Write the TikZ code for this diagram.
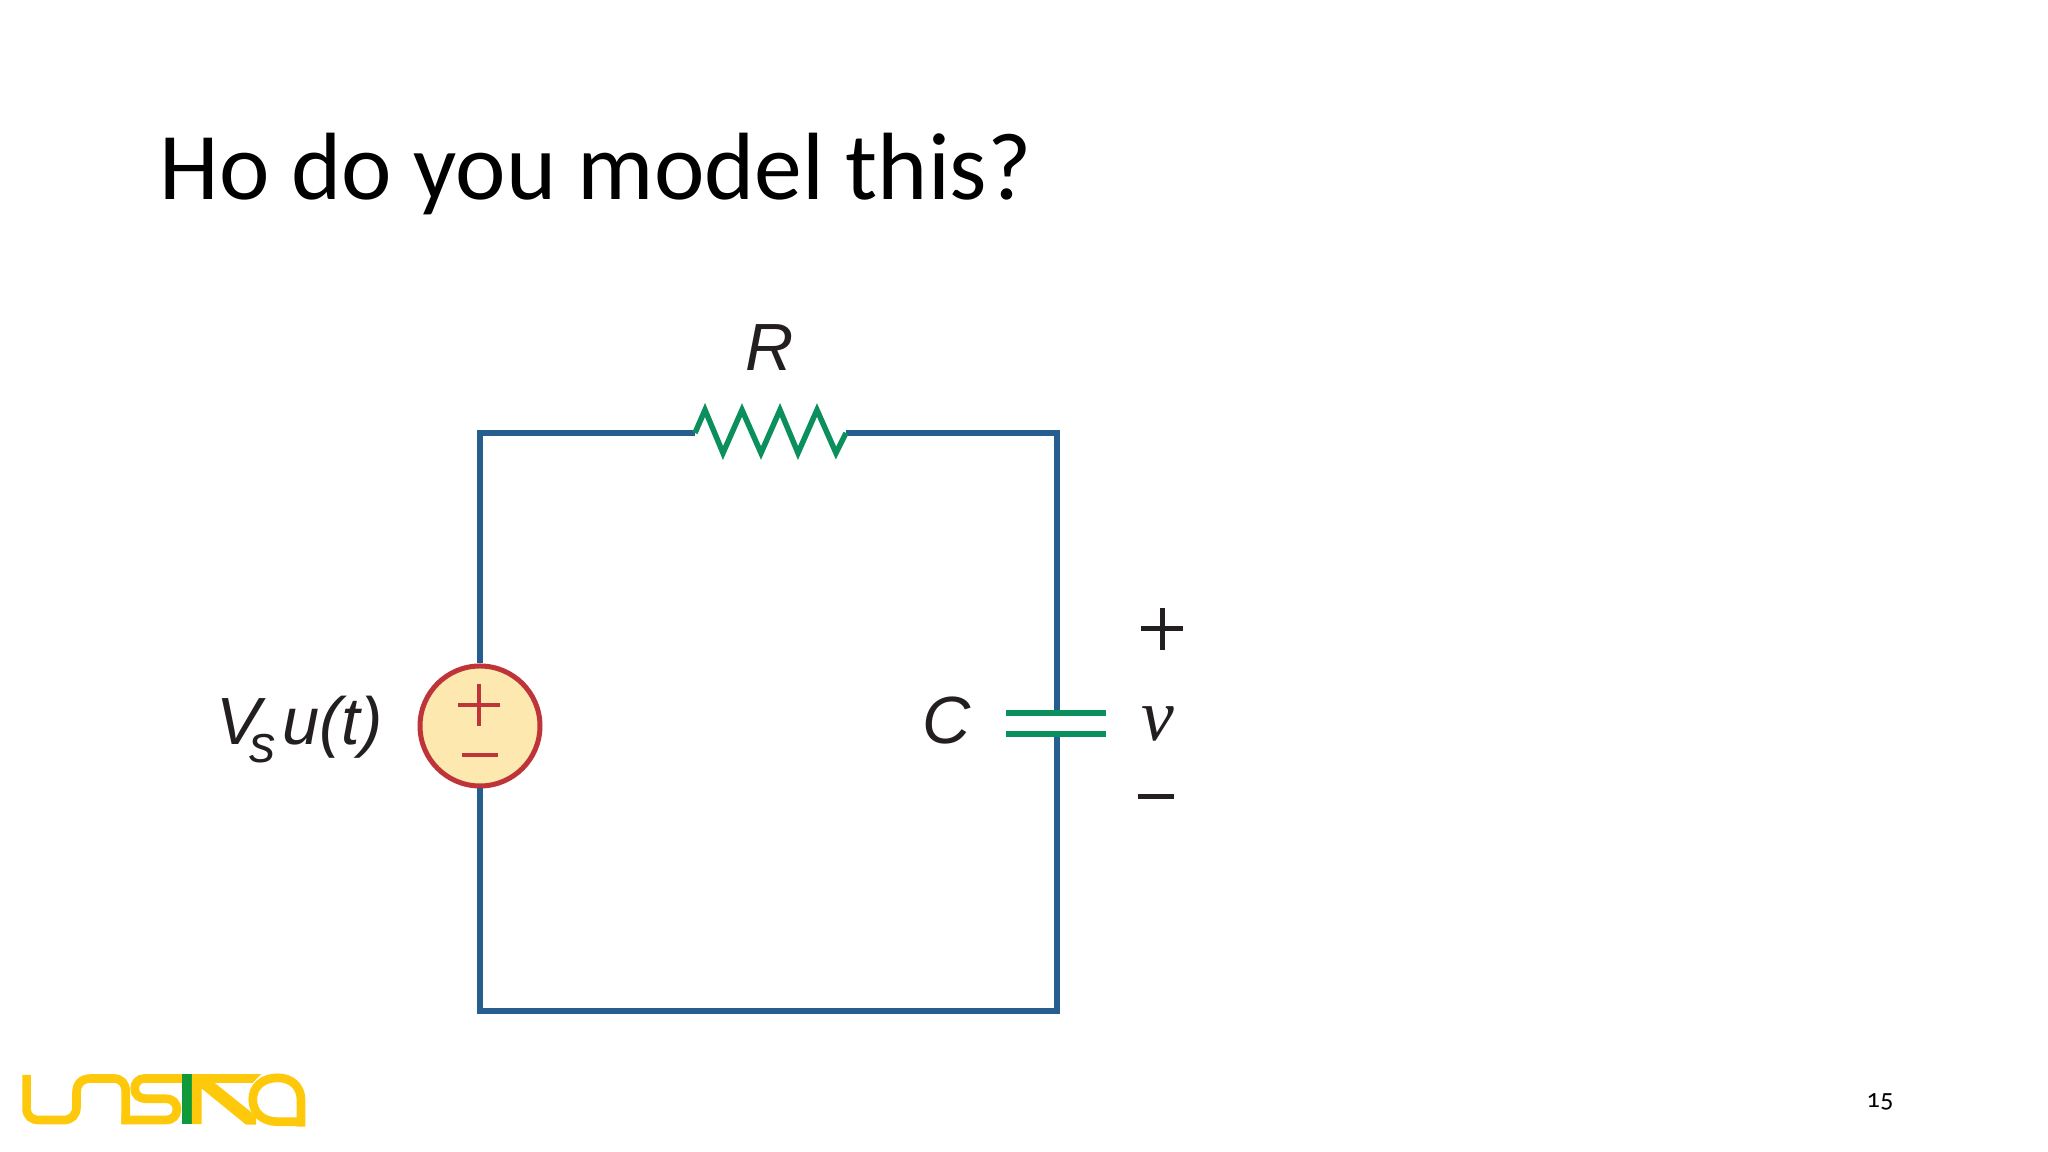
\documentclass[tikz,border=0pt]{standalone}
\usepackage{fontspec}
\setmainfont{Carlito}
\newfontfamily\labelfont{Liberation Sans}
\newfontfamily\voltfont{Liberation Serif}
\definecolor{wireblue}{HTML}{265E90}
\definecolor{partgreen}{HTML}{0B8F5C}
\definecolor{srcred}{HTML}{BE3438}
\definecolor{srcfill}{HTML}{FDE8B0}
\definecolor{logoyellow}{HTML}{FFC90B}
\definecolor{logogreen}{HTML}{0E9A3A}
\definecolor{inkblack}{HTML}{231F20}
\tikzset{
	wire/.style={line width=0.55mm, color=wireblue},
	part/.style={line width=0.55mm, color=partgreen},
	mark line/.style={line width=0.5mm, color=inkblack},
	src mark/.style={line width=0.45mm, color=srcred},
	lbl/.style={inner sep=0pt, color=inkblack, font=\fontsize{19}{19}\selectfont\labelfont\itshape},
	logostroke/.style={line width=0.87mm, color=logoyellow}
}

\begin{document}
\begin{tikzpicture}
		%%%%% START %%%%%
		\useasboundingbox (0, 0) rectangle (20.48, 11.52);
		
		\node[inner sep=0pt, anchor=base west, font=\fontsize{27.2}{28}\selectfont] (title) at (1.59, 9.52) {Ho do you model this?};
		
		\node[circle, draw=srcred, fill=srcfill, line width=0.5mm, minimum size=1.2cm, inner sep=0pt] (src) at (4.80, 4.26) {};
		\coordinate (tl) at (4.80, 7.19);
		\coordinate (tr) at (10.57, 7.19);
		\coordinate (br) at (10.57, 1.41);
		\coordinate (bl) at (4.80, 1.41);
		\coordinate (resl) at (6.95, 7.19);
		\coordinate (resr) at (8.46, 7.19);
		\coordinate (capt) at (10.57, 4.39);
		\coordinate (capb) at (10.57, 4.18);
		
		\draw[wire] (src.north) -- (tl) -- (resl);
		\draw[wire] (resr) -- (tr) -- (capt);
		\draw[wire] (capb) -- (br) -- (bl) -- (src.south);
		
		\draw[part] (resl) -- (7.05, 7.42) -- (7.23, 6.99) -- (7.42, 7.42) -- (7.61, 6.99) -- (7.80, 7.42) -- (7.98, 6.99) -- (8.17, 7.42) -- (8.36, 6.99) -- (resr);
		
		\draw[line width=0.6mm, color=partgreen] (10.06, 4.39) -- (11.06, 4.39);
		\draw[line width=0.6mm, color=partgreen] (10.06, 4.18) -- (11.06, 4.18);
		
		\draw[src mark] (4.58, 4.47) -- (5.00, 4.47);
		\draw[src mark] (4.79, 4.68) -- (4.79, 4.26);
		\draw[src mark] (4.62, 3.97) -- (4.98, 3.97);
		
		\draw[mark line] (11.41, 5.23) -- (11.83, 5.23);
		\draw[mark line] (11.62, 5.02) -- (11.62, 5.44);
		\draw[mark line] (11.38, 3.55) -- (11.74, 3.55);
		
		\node[lbl, anchor=base] (rlabel) at (7.70, 7.81) {R};
		\node[lbl, anchor=base] (clabel) at (9.47, 4.08) {C};
		\node[lbl, anchor=base west] (srclabel) at (2.16, 4.07) {V\hspace{-0.12cm}\raisebox{-0.18cm}{\fontsize{15}{15}\selectfont s}\hspace{0.07cm}u(t)};
		\node[inner sep=0pt, anchor=base, color=inkblack, font=\fontsize{21}{21}\selectfont\voltfont\itshape] (vlabel) at (11.58, 4.11) {v};
		
		\node[anchor=center, inner sep=0pt, font=\fontsize{7.5}{8}\selectfont\addfontfeatures{Numbers=OldStyle}] (pagenum) at (18.80, 0.50) {15};
		
		% logo
		\begin{scope}[x=0.003333cm, y=-0.003333cm, shift={(0, -336)}]
		\draw[logostroke] (80, 104) -- (80, 205) .. controls (80, 228) and (95, 240) .. (118, 240) -- (190, 240) .. controls (215, 240) and (230, 225) .. (230, 200) -- (230, 160) .. controls (230, 130) and (245, 115) .. (275, 115) -- (340, 115) .. controls (365, 115) and (378, 130) .. (378, 155) -- (378, 252);
		\draw[logostroke] (548, 115) -- (435, 115) .. controls (415, 115) and (405, 130) .. (405, 145) .. controls (405, 165) and (420, 176) .. (440, 176) -- (498, 176) .. controls (520, 176) and (532, 190) .. (532, 207) .. controls (532, 228) and (518, 240) .. (498, 240) -- (365, 240);
		\fill[logogreen] (548, 102) rectangle (577, 252);
		\fill[logoyellow] (577, 102) -- (785, 102) -- (760, 128) -- (645, 128) -- (770, 228) -- (770, 254) -- (740, 254) -- (606, 145) -- (606, 252) -- (577, 252) -- cycle;
		\draw[logostroke] (905, 260) -- (905, 180) .. controls (905, 138) and (875, 113) .. (835, 113) .. controls (790, 113) and (760, 140) .. (760, 178) .. controls (760, 218) and (790, 245) .. (835, 245) -- (905, 245);
		\end{scope}
		
		%%%%% END %%%%%
	\end{tikzpicture}
\end{document}
